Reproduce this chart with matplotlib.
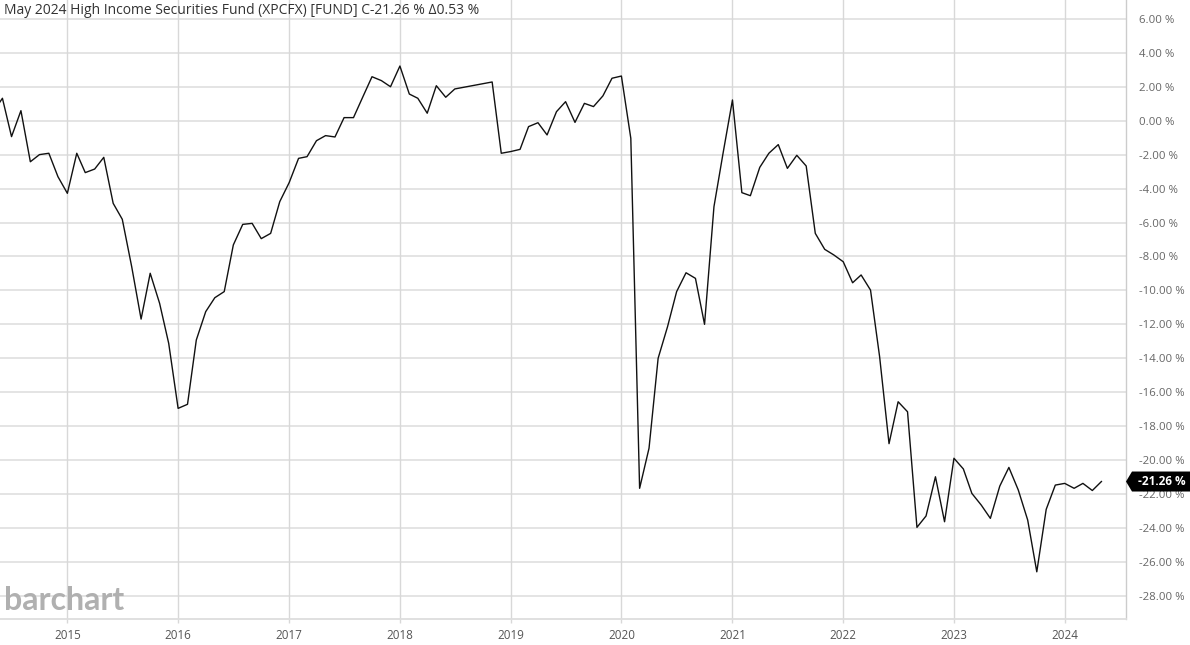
import matplotlib
matplotlib.use("Agg")
import matplotlib.pyplot as plt
import matplotlib.transforms as mtransforms
from matplotlib.patches import Polygon
import numpy as np
import pandas as pd

# ---- data (monthly % change, month starts) ----
start_month = "2014-05-01"
end_month = "2024-05-01"
values = [
    # 2014 May-Dec
    0.5, 1.32, -0.94, 0.59, -2.42, -2.0, -1.92, -3.3,
    # 2015
    -4.28, -1.92, -3.06, -2.85, -2.16, -4.87, -5.81, -8.6, -11.69, -8.99, -10.76, -13.12,
    # 2016
    -16.95, -16.71, -12.92, -11.25, -10.43, -10.07, -7.32, -6.11, -6.05, -6.95, -6.64, -4.77,
    # 2017
    -3.65, -2.22, -2.12, -1.18, -0.88, -0.96, 0.18, 0.18, 1.41, 2.59, 2.36, 2.0,
    # 2018 (Aug-Oct missing)
    3.22, 1.57, 1.32, 0.44, 2.06, 1.38, 1.87, None, None, None, 2.28, -1.92,
    # 2019
    -1.82, -1.69, -0.35, -0.12, -0.84, 0.53, 1.12, -0.1, 1.02, 0.83, 1.46, 2.5,
    # 2020
    2.63, -1.04, -21.66, -19.3, -14.0, -12.14, -10.07, -8.96, -9.29, -12.0, -5.07, -1.92,
    # 2021
    1.22, -4.24, -4.42, -2.75, -1.92, -1.41, -2.81, -2.04, -2.67, -6.64, -7.58, -7.91,
    # 2022
    -8.31, -9.55, -9.09, -9.98, -13.91, -19.03, -16.56, -17.15, -23.96, -23.29, -20.98, -23.63,
    # 2023
    -19.89, -20.52, -21.96, -22.65, -23.43, -21.53, -20.43, -21.76, -23.53, -26.58, -22.9, -21.47,
    # 2024 Jan-May
    -21.37, -21.66, -21.37, -21.79, -21.26,
]
y_ticks = [6, 4, 2, 0, -2, -4, -6, -8, -10, -12, -14, -16, -18, -20, -22, -24, -26, -28]
x_years = list(range(2015, 2025))
title = "May 2024 High Income Securities Fund (XPCFX) [FUND] C-21.26 % \u03940.53 %"
last_label = "-21.26 %"

dates = pd.date_range(start_month, end_month, freq="MS")
vals = np.array([np.nan if v is None else v for v in values], dtype=float)
mask = np.isfinite(vals)

FONT = ["Open Sans", "DejaVu Sans"]
plt.rcParams["font.family"] = FONT

W, H = 1190, 645
fig = plt.figure(figsize=(W / 100, H / 100), dpi=100)
ax_left, ax_right, ax_top, ax_bottom = 0, 1126, 0, 619
ax = fig.add_axes([ax_left / W, 1 - ax_bottom / H, (ax_right - ax_left) / W, (ax_bottom - ax_top) / H])

ax.plot(dates[mask], vals[mask], color="#111111", lw=1.0, zorder=3)

ax.set_xlim(pd.Timestamp("2014-05-24"), pd.Timestamp("2024-07-21"))
ax.set_ylim(-29.36, 7.11)

# grid
for t in y_ticks:
    ax.axhline(t, color="#e2e2e2", lw=1.3, zorder=1)
for yr in x_years:
    ax.axvline(pd.Timestamp(f"{yr}-01-01"), color="#d8d8d8", lw=1.0, zorder=1)

ax.yaxis.tick_right()
ax.set_yticks(y_ticks)
ax.set_yticklabels([f"{t:.2f} %" for t in y_ticks])
ax.tick_params(axis="y", length=0, pad=9.5, labelsize=8.2, labelcolor="#666666")

ax.set_xticks([pd.Timestamp(f"{yr}-01-01") for yr in x_years])
ax.set_xticklabels([str(y) for y in x_years])
ax.tick_params(axis="x", length=3, width=1.0, color="#d8d8d8", pad=4, labelsize=8.4, labelcolor="#555555")

for s in ["top", "left"]:
    ax.spines[s].set_visible(False)
ax.spines["right"].set_color("#cccccc")
ax.spines["right"].set_linewidth(1.0)
ax.spines["bottom"].set_color("#dddddd")
ax.spines["bottom"].set_linewidth(1.3)

# title
fig.text(4 / W, 1 - 10 / H, title, fontsize=10, color="#333333", va="center", ha="left")

# watermark
fig.text(4 / W, 1 - 601 / H, "barchart", fontsize=23, fontweight="bold", color="#b0b0b0",
         va="center", ha="left", family=["Lato", "DejaVu Sans"])

# last value marker
last = vals[mask][-1]
tr = mtransforms.blended_transform_factory(ax.transAxes, ax.transData)
anchor = mtransforms.ScaledTranslation(1.0, last, tr)
poly = Polygon([(0, 0), (6, 10), (64, 10), (64, -10), (6, -10)], closed=True,
               facecolor="black", edgecolor="none", transform=mtransforms.Affine2D() + anchor,
               clip_on=False, zorder=5)
fig.patches.append(poly)
poly.set_figure(fig)
fig.text(0, 0, last_label, transform=mtransforms.Affine2D().translate(36, 0) + anchor,
         color="white", fontsize=8.5, fontweight="bold", ha="center", va="center", zorder=6)

fig.savefig("out.png", dpi=100)
